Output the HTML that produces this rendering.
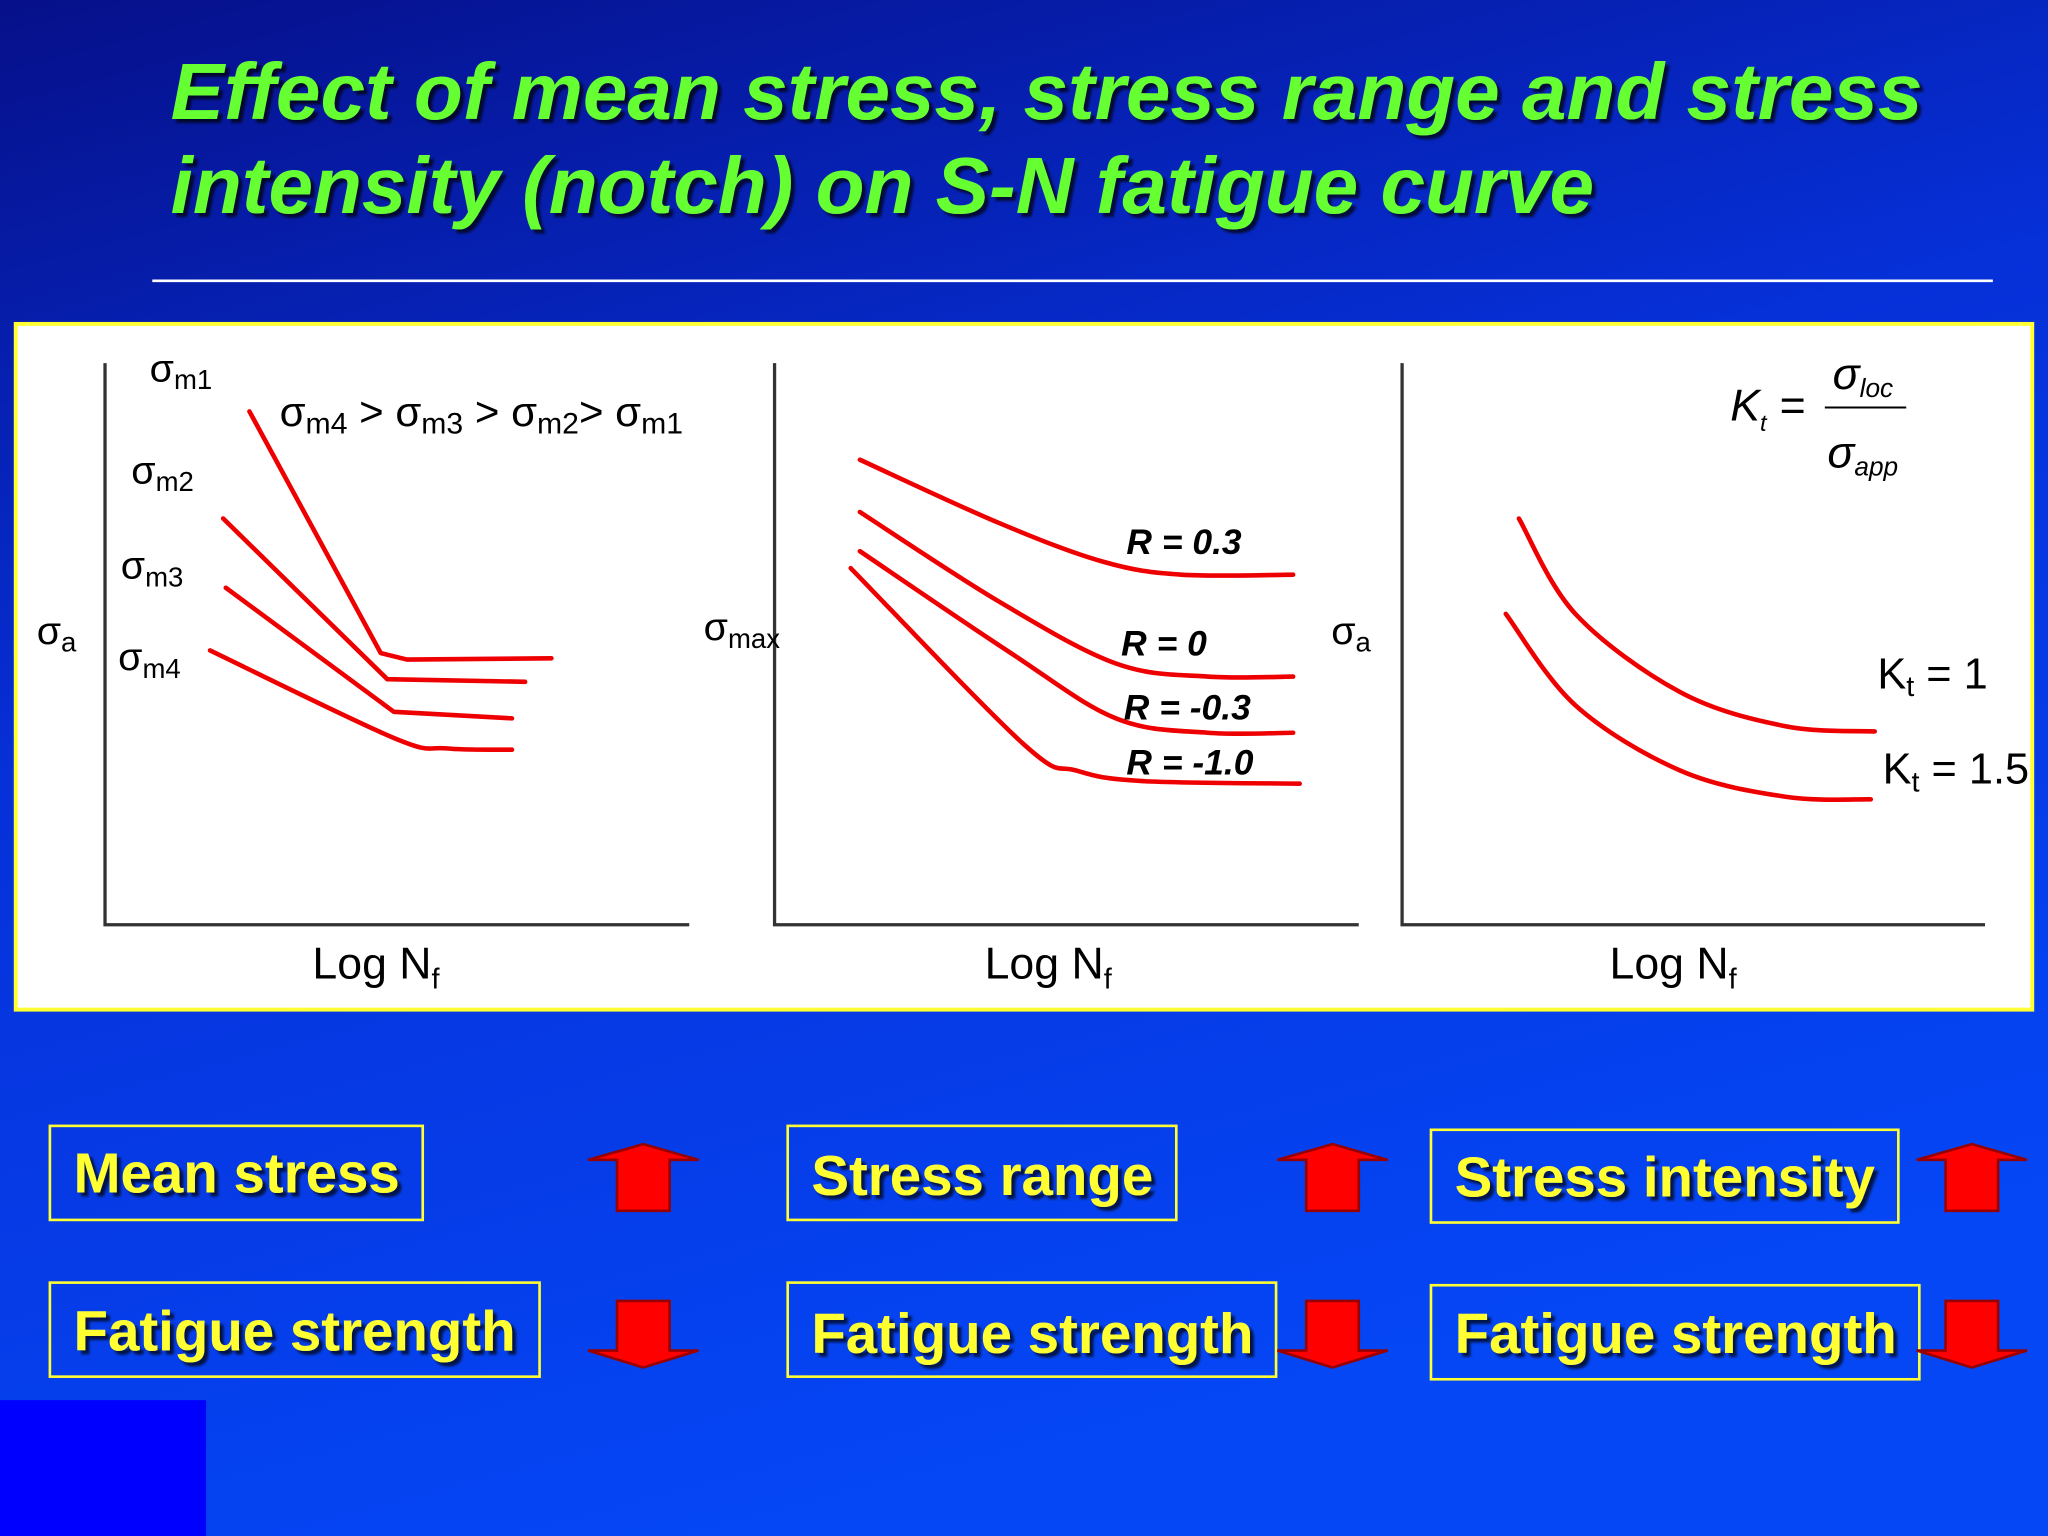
<!DOCTYPE html>
<html><head><meta charset="utf-8"><style>
html,body{margin:0;padding:0;width:2048px;height:1536px;overflow:hidden}
svg{display:block}
text{font-family:"Liberation Sans",sans-serif}
</style></head><body>
<svg width="2048" height="1536" viewBox="0 0 1560 1176" preserveAspectRatio="none" xmlns="http://www.w3.org/2000/svg">
<defs>
<linearGradient id="bg" x1="0" y1="0" x2="0.35" y2="1">
<stop offset="0" stop-color="#06108a"/><stop offset="0.45" stop-color="#0630d8"/><stop offset="1" stop-color="#0546f5"/>
</linearGradient>
<filter id="sh"><feDropShadow dx="3" dy="3" stdDeviation="1" flood-color="#000" flood-opacity="0.7"/></filter>
</defs>
<rect width="1560" height="1176" fill="url(#bg)"/>
<rect x="0" y="1072" width="157" height="104" fill="#0000ff"/>
<g fill="#66ff33" font-weight="bold" font-style="italic" font-size="61" filter="url(#sh)">
<text x="130" y="91">Effect of mean stress, stress range and stress</text>
<text x="130" y="163">intensity (notch) on S-N fatigue curve</text>
</g>
<line x1="116" y1="215" x2="1518" y2="215" stroke="#fff" stroke-width="2"/>
<rect x="12" y="248" width="1536" height="525" fill="#fff" stroke="#ffff33" stroke-width="3"/>
<g id="charts"></g>
<g font-size="30" fill="#000">
<text x="28" y="493">σ<tspan font-size="21" dy="6">a</tspan></text>
<text x="114" y="292">σ<tspan font-size="21" dy="6">m1</tspan></text>
<text x="100" y="370">σ<tspan font-size="21" dy="6">m2</tspan></text>
<text x="92" y="443">σ<tspan font-size="21" dy="6">m3</tspan></text>
<text x="90" y="513">σ<tspan font-size="21" dy="6">m4</tspan></text>
<text x="213" y="326" font-size="32">σ<tspan font-size="23" dy="6">m4</tspan><tspan dy="-6"> &gt; σ</tspan><tspan font-size="23" dy="6">m3</tspan><tspan dy="-6"> &gt; σ</tspan><tspan font-size="23" dy="6">m2</tspan><tspan dy="-6">&gt; σ</tspan><tspan font-size="23" dy="6">m1</tspan></text>
<text x="536" y="490">σ<tspan font-size="21" dy="6">max</tspan></text>
<text x="1014" y="493">σ<tspan font-size="21" dy="6">a</tspan></text>
<g font-style="italic" font-weight="bold" font-size="27">
<text x="858" y="424">R = 0.3</text>
<text x="854" y="502">R = 0</text>
<text x="856" y="551">R = -0.3</text>
<text x="858" y="593">R = -1.0</text>
</g>
<text x="1430" y="527" font-size="33">K<tspan font-size="22" dy="6">t</tspan><tspan dy="-6"> = 1</tspan></text>
<text x="1434" y="600" font-size="33">K<tspan font-size="22" dy="6">t</tspan><tspan dy="-6"> = 1.5</tspan></text>
<g font-family="Liberation Serif,serif" font-style="italic" font-size="34">
<text x="1318" y="322">K<tspan font-size="18" dy="8">t</tspan><tspan dy="-8"> =</tspan></text>
<text x="1396" y="298">σ<tspan font-size="20" dy="6">loc</tspan></text>
<line x1="1390" y1="312" x2="1452" y2="312" stroke="#000" stroke-width="1.5"/>
<text x="1392" y="358">σ<tspan font-size="20" dy="6">app</tspan></text>
</g>
<g font-size="34">
<text x="238" y="749">Log N<tspan font-size="22" dy="8">f</tspan></text>
<text x="750" y="749">Log N<tspan font-size="22" dy="8">f</tspan></text>
<text x="1226" y="749">Log N<tspan font-size="22" dy="8">f</tspan></text>
</g>
</g>
<g fill="none" stroke="#ffff33" stroke-width="2">
<rect x="38" y="862" width="284" height="72"/>
<rect x="600" y="862" width="296" height="72"/>
<rect x="1090" y="865" width="356" height="71"/>
<rect x="38" y="982" width="373" height="72"/>
<rect x="600" y="982" width="372" height="72"/>
<rect x="1090" y="984" width="372" height="72"/>
</g>
<g fill="#ffff33" font-weight="bold" font-size="43" filter="url(#sh)">
<text x="56" y="913">Mean stress</text>
<text x="618" y="915">Stress range</text>
<text x="1108" y="916">Stress intensity</text>
<text x="56" y="1034">Fatigue strength</text>
<text x="618" y="1036">Fatigue strength</text>
<text x="1108" y="1036">Fatigue strength</text>
</g>
<g fill="#ff0000" stroke="#990000" stroke-width="2">
<path d="M448,888 L490,876 L532,888 L510,888 L510,927 L470,927 L470,888 Z"/>
<path d="M973,888 L1015,876 L1057,888 L1035,888 L1035,927 L995,927 L995,888 Z"/>
<path d="M1460,888 L1502,876 L1544,888 L1522,888 L1522,927 L1482,927 L1482,888 Z"/>
<path d="M470,996 L510,996 L510,1034 L532,1034 L490,1047 L448,1034 L470,1034 Z"/>
<path d="M995,996 L1035,996 L1035,1034 L1057,1034 L1015,1047 L973,1034 L995,1034 Z"/>
<path d="M1482,996 L1522,996 L1522,1034 L1544,1034 L1502,1047 L1460,1034 L1482,1034 Z"/>
</g>
</svg>
<script>
// Units: x = log Nf position, y = stress (relative)
const m1X=[27.5,52.5,57.5,85], m1Y=[98.25,52,50.75,51];
const m2X=[22.5,53.75,80], m2Y=[77.75,47,46.5];
const m3X=[23,55,77.5], m3Y=[64.5,40.75,39.5];
const m4X=[20,55,65,77.5], m4Y=[52.5,35.75,33.75,33.5];
const r03X=[16.25,42.5,62.5,77.5,98.75], r03Y=[89,77,69.5,67,67];
const r0X=[16.25,42.5,65,82.5,98.75], r0Y=[79,62,50,47.5,47.5];
const rm03X=[16.25,45,65,82.5,98.75], rm03Y=[71.5,52,39.5,36.75,36.75];
const rm1X=[14.5,47.5,57.5,70,100], rm1Y=[68.25,34.5,29.5,27.5,27];
const kt1X=[22.25,33,53,73,90], kt1Y=[77.75,59.5,44.5,38,37];
const kt15X=[19.75,33,53,73,89.25], kt15Y=[59.5,42,29.5,24.5,24];
const panels=[
 {x0:80,xEnd:525,series:[['m1',m1X,m1Y,false],['m2',m2X,m2Y,false],['m3',m3X,m3Y,false],['m4',m4X,m4Y,true]]},
 {x0:590,xEnd:1035,series:[['r03',r03X,r03Y,true],['r0',r0X,r0Y,true],['rm03',rm03X,rm03Y,true],['rm1',rm1X,rm1Y,true]]},
 {x0:1068,xEnd:1512,series:[['kt1',kt1X,kt1Y,true],['kt15',kt15X,kt15Y,true]]}
];
const NS='http://www.w3.org/2000/svg', g=document.getElementById('charts');
const y0=708, yTop=278;
const ys=v=>y0-v*4;
function path(pts,smooth){
 if(!smooth||pts.length<3) return 'M'+pts.map(p=>p.join(',')).join(' L');
 let d='M'+pts[0].join(',');
 for(let i=0;i<pts.length-1;i++){
  const p0=pts[Math.max(i-1,0)],p1=pts[i],p2=pts[i+1],p3=pts[Math.min(i+2,pts.length-1)];
  const c1=[p1[0]+(p2[0]-p0[0])/6,p1[1]+(p2[1]-p0[1])/6];
  const c2=[p2[0]-(p3[0]-p1[0])/6,p2[1]-(p3[1]-p1[1])/6];
  d+=' C'+c1.join(',')+' '+c2.join(',')+' '+p2.join(',');
 }
 return d;
}
panels.forEach((p,i)=>{
 const xs=v=>p.x0+v*4;
 const ax=document.createElementNS(NS,'path');
 
 
 ax.setAttribute('d',`M${p.x0},${yTop} L${p.x0},${y0} L${p.xEnd},${y0}`);
 ax.setAttribute('fill','none');ax.setAttribute('stroke','#333');ax.setAttribute('stroke-width','2.5');
 g.appendChild(ax);
 p.series.forEach(s=>{
  const pts=s[1].map((x,k)=>[xs(x),ys(s[2][k])]);
  const el=document.createElementNS(NS,'path');
  
  
  el.setAttribute('d',path(pts,s[3]));
  el.setAttribute('fill','none');el.setAttribute('stroke','#ee0000');el.setAttribute('stroke-width','3.5');
  el.setAttribute('stroke-linejoin','round');el.setAttribute('stroke-linecap','round');
  g.appendChild(el);
 });
});
</script>
</body></html>
